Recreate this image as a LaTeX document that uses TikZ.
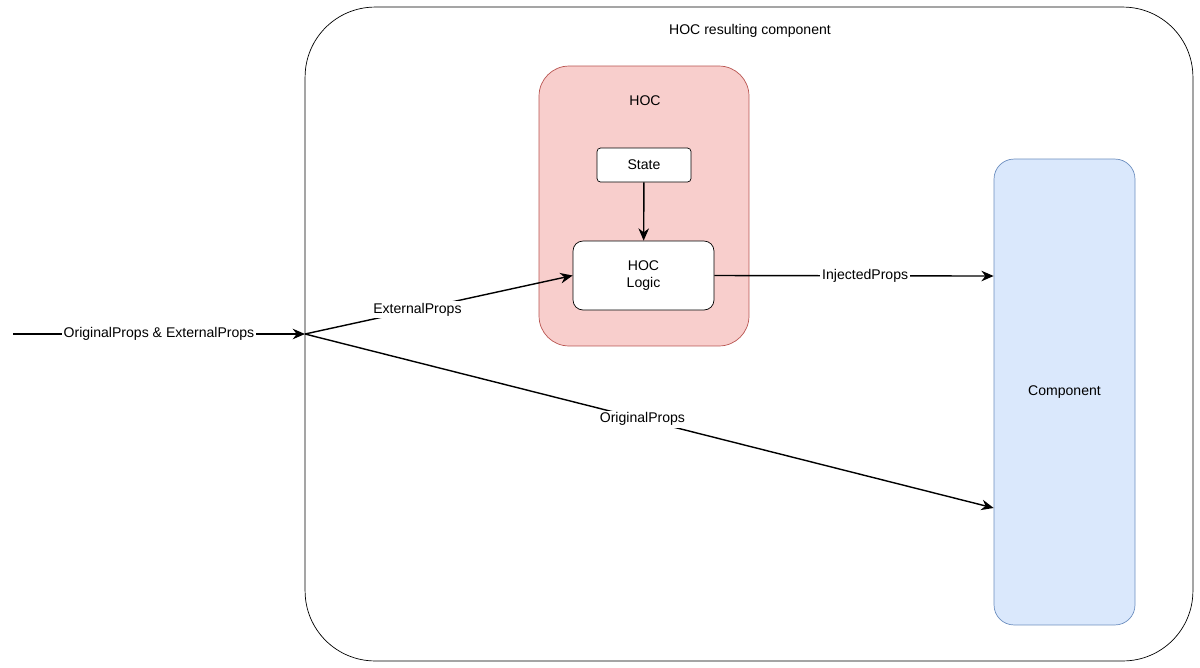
\documentclass[tikz,border=0pt]{standalone}
\usepackage{fontspec}
\setmainfont{Liberation Sans}
\usetikzlibrary{arrows.meta,positioning}
\definecolor{hocfill}{HTML}{F8CECC}
\definecolor{hocdraw}{HTML}{B85450}
\definecolor{compfill}{HTML}{DAE8FC}
\definecolor{compdraw}{HTML}{6C8EBF}
\tikzset{
  box/.style={draw, rectangle, inner sep=0pt, font=\fontsize{8}{10}\selectfont, align=center},
  lbl/.style={font=\fontsize{8}{10}\selectfont, fill=white, inner sep=1pt},
  flow/.style={-{Stealth[length=7pt,width=6pt]}, thick}
}
\begin{document}
\begin{tikzpicture}[x=0.02cm, y=-0.02cm]
\useasboundingbox (0,0) rectangle (1200,667);

% containers
\node[box, rounded corners=1.4cm, minimum width=17.76cm, minimum height=13.08cm] (outer) at (749,334) {};
\node[lbl] (outertitle) at (750,31) {HOC resulting component};
\node[box, rounded corners=0.6cm, fill=hocfill, draw=hocdraw, minimum width=4.2cm, minimum height=5.6cm] (hoc) at (644,206) {};
\node[lbl, fill=none] (hoctitle) at (645,101) {HOC};

% inner blocks
\node[box, rounded corners=2pt, fill=white, minimum width=1.88cm, minimum height=0.68cm] (state) at (644,165) {State};
\node[box, rounded corners=0.2cm, fill=white, minimum width=2.82cm, minimum height=1.38cm] (logic) at (643.5,275.5) {HOC\\Logic};
\node[box, rounded corners=0.4cm, fill=compfill, draw=compdraw, minimum width=2.82cm, minimum height=9.32cm] (comp) at (1064.5,392) {Component};

\coordinate (start) at (13,334);
\coordinate (split) at (305,334);

\draw[flow] (state) -- (logic);
\draw[flow] (start) -- node[lbl] {OriginalProps \& ExternalProps} (split);
\draw[flow] (split) -- node[lbl, pos=0.42] {ExternalProps} (logic.west);
\draw[flow] (logic.east) -- node[lbl, pos=0.54] {InjectedProps} ([yshift=2.32cm]comp.west);
\draw[flow] (split) -- node[lbl, pos=0.49] {OriginalProps} ([yshift=-2.32cm]comp.west);
\end{tikzpicture}
\end{document}
